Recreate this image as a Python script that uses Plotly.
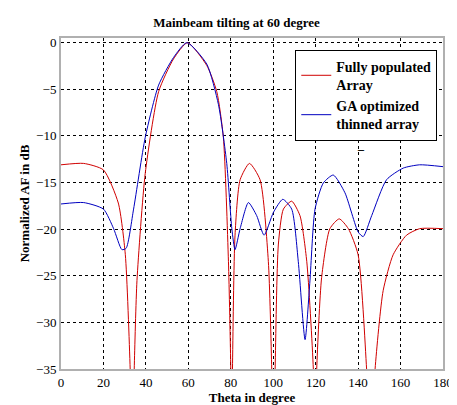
import plotly.graph_objects as go

# Array factor readings (theta in degree, AF in dB)
theta_full = [0, 10.7, 20, 27, 30.3, 32.6, 33.6, 34.5, 35.8, 39.7, 46, 53, 59.6, 68.7, 73.4, 76.5,
              78.9, 80, 80.4, 80.8, 82, 84.4, 88.8, 93.8, 97.7, 99.3, 100.1, 100.9, 102.4, 104.8,
              108.7, 112.6, 115.8, 118.9, 119.7, 120.5, 122.8, 126.7, 131.1, 135.4, 140, 144,
              146, 148, 151.8, 156.5, 162.8, 169, 180]
af_full = [-13.1, -12.95, -13.65, -17.2, -22.7, -35, -45, -35, -25.5, -14, -5.25, -1.75, 0, -2.45,
           -5.25, -10.15, -23.45, -35, -45, -35, -20.65, -14.7, -12.95, -14.7, -23.45, -35, -45, -35,
           -21.7, -17.85, -17, -18.55, -23.45, -35, -45, -35, -25.2, -19.95, -18.9, -19.95, -22.75,
           -35, -45, -35, -26.6, -22.75, -20.65, -19.95, -19.95]

theta_ga = [0, 10.7, 20, 24.8, 28.7, 30.7, 34.2, 39.7, 46, 53, 59.3, 68.7, 74.2, 78.1, 80.5, 82,
            84.4, 88.3, 92.2, 95.7, 100.1, 104.5, 108.7, 111.8, 115, 117.3, 119.7, 123.6, 128.3,
            133.8, 140, 142.4, 146.4, 153.4, 161.3, 169, 180]
af_ga = [-17.3, -17.15, -17.85, -19.95, -22.2, -22.05, -17.85, -10.15, -4.55, -1.6, 0, -2.3, -6.65,
         -12.95, -19.95, -22.2, -19.95, -17.15, -18.55, -20.65, -18.2, -16.8, -17.85, -23.45, -31.85,
         -25.55, -17.85, -15.05, -14.2, -16.1, -20.3, -20.8, -18.55, -14.7, -13.45, -13.1, -13.3]

serif = "Liberation Serif"

fig = go.Figure()
fig.add_trace(go.Scatter(x=theta_full, y=af_full, mode='lines', name='<b>Fully populated<br>Array</b>',
                         line=dict(color='#d00000', width=1, shape='spline', smoothing=0.6)))
fig.add_trace(go.Scatter(x=theta_ga, y=af_ga, mode='lines', name='<b>GA optimized<br>thinned array</b>',
                         line=dict(color='#0000c0', width=1, shape='spline', smoothing=0.6)))

grid = dict(showgrid=True, gridcolor='black', griddash='dot', gridwidth=1, zeroline=False,
            showline=True, linecolor='#b0b0b0', linewidth=2, mirror=True, ticks='',
            tickfont=dict(family=serif, size=13, color='black'))

fig.update_xaxes(range=[0, 180], dtick=20, **grid,
                 title=dict(text='<b>Theta in degree</b>',
                            font=dict(family=serif, size=13, color='black'), standoff=2))
fig.update_yaxes(range=[-35, 0.5], dtick=5, **grid,
                 title=dict(text='<b>Normalized AF in dB</b>',
                            font=dict(family=serif, size=13, color='black'), standoff=4))

fig.update_layout(
    width=457, height=405,
    margin=dict(l=53, r=22, t=30, b=42),
    paper_bgcolor='white', plot_bgcolor='white',
    title=dict(text='<b>Mainbeam tilting at 60 degree</b>', x=0.5, xanchor='center', y=0.975,
               font=dict(family=serif, size=13, color='black')),
    legend=dict(x=0.985, y=0.965, xanchor='right', yanchor='top', bgcolor='white',
                bordercolor='black', borderwidth=1, tracegroupgap=2,
                font=dict(family=serif, size=14, color='black')),
    showlegend=True,
)
fig.add_annotation(x=0.80, y=0.705, xref='paper', yref='paper', text='<b>_</b>', showarrow=False,
                   font=dict(family=serif, size=12, color='black'))

fig.write_html("out.html")
